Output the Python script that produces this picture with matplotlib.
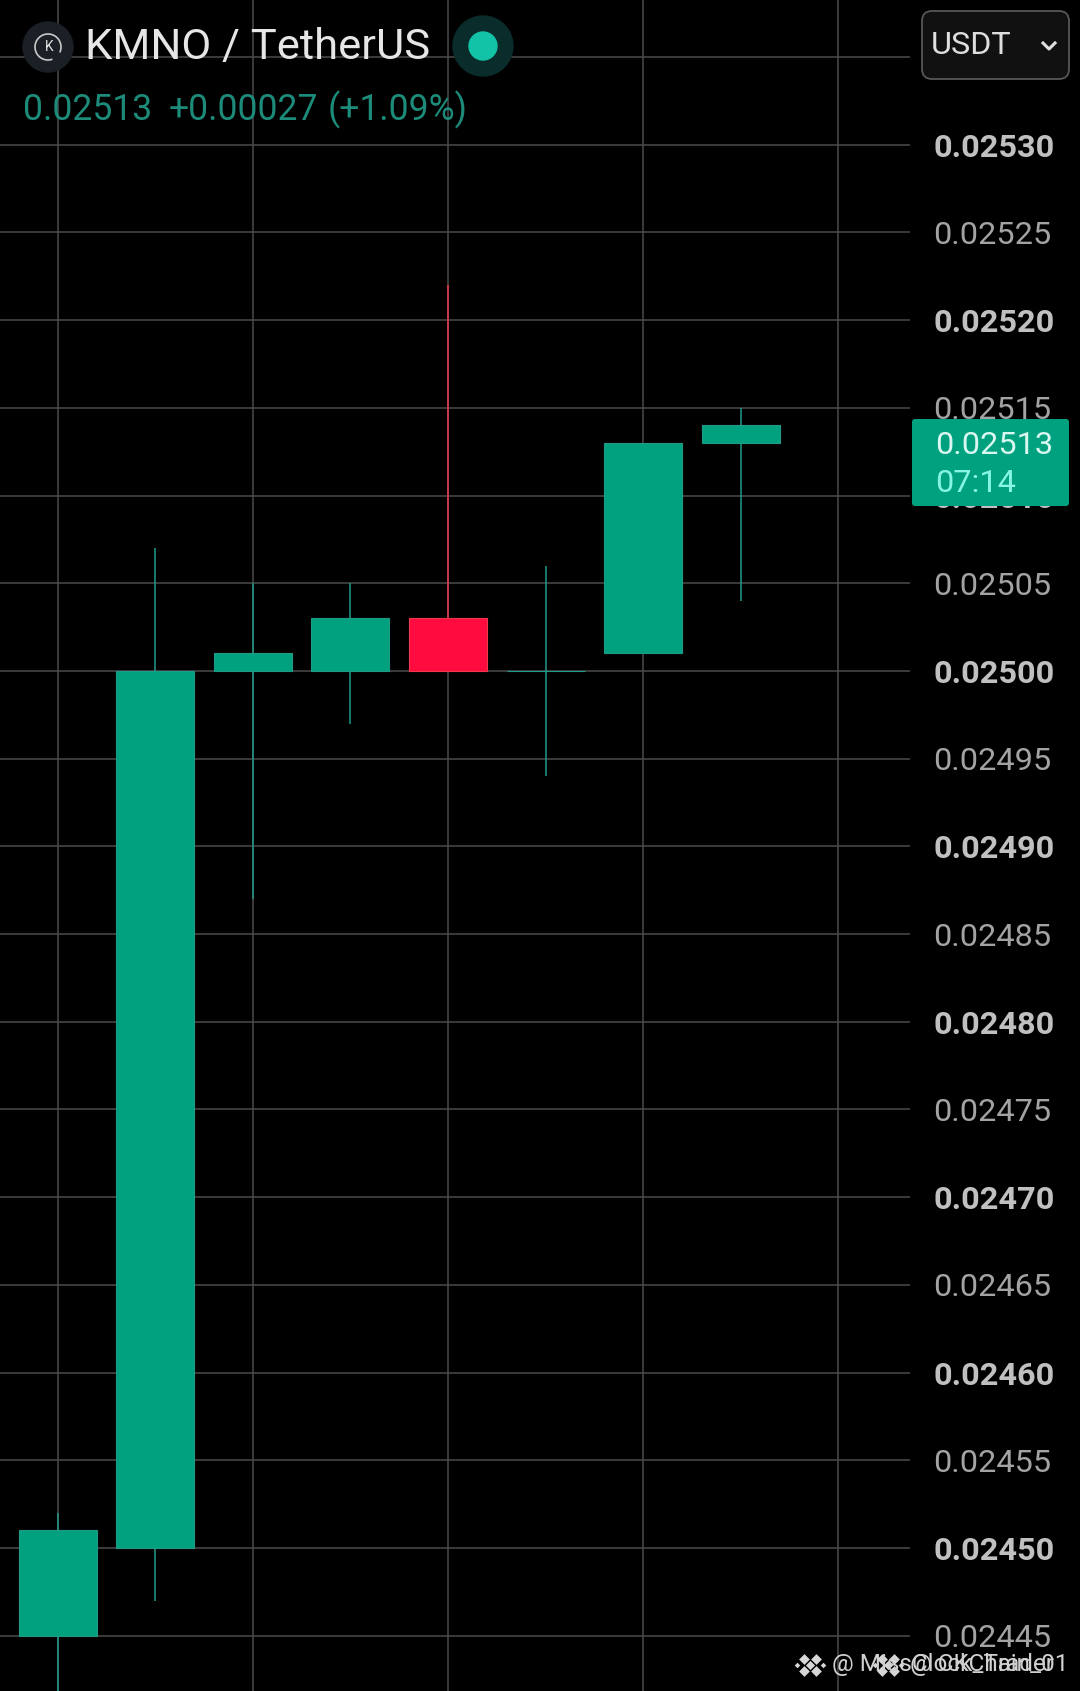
import matplotlib
matplotlib.use('Agg')
import matplotlib.pyplot as plt
from matplotlib.patches import Circle, Arc, FancyBboxPatch

plt.rcParams['font.family'] = ['Roboto', 'DejaVu Sans']

# candle values
opens = [0.02445, 0.02450, 0.02500, 0.02500, 0.02503, 0.02500, 0.02501, 0.02513]
closes = [0.02451, 0.02500, 0.02501, 0.02503, 0.02500, 0.02500, 0.02513, 0.02514]
highs = [0.02452, 0.02507, 0.02505, 0.02505, 0.02522, 0.02506, 0.02513, 0.02515]
lows = [0.02440, 0.02447, 0.02487, 0.02497, 0.02500, 0.02494, 0.02501, 0.02504]

price_ticks = [0.02445, 0.02450, 0.02455, 0.02460, 0.02465, 0.02470, 0.02475, 0.02480,
               0.02485, 0.02490, 0.02495, 0.02500, 0.02505, 0.02510, 0.02515, 0.02520,
               0.02525, 0.02530, 0.02535]
time_ticks = [0, 2, 4, 6, 8]

W, H = 1080, 1691
GREEN = '#00a17f'
RED = '#ff0b3f'

fig = plt.figure(figsize=(W / 100, H / 100), dpi=100, facecolor='black')

# main chart, pixel width up to where the grid stops
ax = fig.add_axes([0, 0, 910 / W, 1], facecolor='black')
px_per_bar = 97.6
px_per_unit = 87.7 / 0.00005
ax.set_xlim(-57.6 / px_per_bar, (910 - 57.6) / px_per_bar)
ax.set_ylim(0.02535 - (H - 57) / px_per_unit, 0.02535 + 57 / px_per_unit)

ax.set_axisbelow(True)
ax.grid(True, color='#4b4b4b', linewidth=1.1)
ax.set_xticks(time_ticks)
ax.set_xticklabels([])
ax.tick_params(axis='x', length=0)
ax.yaxis.tick_right()
ax.set_yticks(price_ticks)
ax.set_yticklabels(['%.5f' % p if p < 0.0253 + 0.00001 else '' for p in price_ticks])
ax.tick_params(axis='y', length=0, pad=17, labelsize=23.4)
for p, lab in zip(price_ticks, ax.get_yticklabels()):
    # every 0.0001 is shown bold
    if round(p * 100000) % 10 == 0:
        lab.set_fontweight('bold')
        lab.set_color('#c0c0c0')
    else:
        lab.set_color('#a3a3a3')
for s in ax.spines.values():
    s.set_visible(False)

for i in range(len(opens)):
    up = closes[i] >= opens[i]
    ax.vlines(i, lows[i], highs[i], color='#1f9a88' if up else '#f0384f', linewidth=1.1, zorder=3)
    ax.bar(i, abs(closes[i] - opens[i]), bottom=min(opens[i], closes[i]), width=0.8,
           color=GREEN if up else RED, edgecolor='#1f9a88' if up else '#f0384f',
           linewidth=0.8, zorder=4)

# overlay in pixel coordinates for the app's header and labels
ov = fig.add_axes([0, 0, 1, 1], facecolor='none')
ov.set_xlim(0, W)
ov.set_ylim(H, 0)
ov.axis('off')

# coin logo
ov.add_patch(Circle((48, 47), 25, color='#1b2026'))
ov.add_patch(Arc((48, 47), 26, 26, theta1=70, theta2=385, color='#c9c9c9', linewidth=1.2))
ov.text(49, 47, 'K', color='#e4e4e4', fontsize=10, ha='center', va='center')

ov.text(85, 47, 'KMNO / TetherUS', color='#e6e6e6', fontsize=31.3, va='center')

# status dot
ov.add_patch(Circle((483, 46), 30, color='#0a2c2b'))
ov.add_patch(Circle((483, 46), 14, color='#13c3a7'))

ov.text(23, 110, '0.02513', color='#1d8b79', fontsize=25.6, va='center')
ov.text(169, 110, '+0.00027', color='#1d8b79', fontsize=25.6, va='center')
ov.text(328, 110, '(+1.09%)', color='#1d8b79', fontsize=25.6, va='center')

# currency button
ov.add_patch(FancyBboxPatch((928, 17), 135, 56, boxstyle='round,pad=6,rounding_size=10',
                            facecolor='#111111', edgecolor='#575757', linewidth=1.3))
ov.text(931, 46, 'USDT', color='#dedede', fontsize=23.3, va='center')
ov.plot([1043, 1049, 1055], [43, 49, 43], color='#e0e0e0', linewidth=2.2)

# last price label
ov.add_patch(FancyBboxPatch((914, 421), 153, 83, boxstyle='round,pad=2,rounding_size=3',
                            facecolor=GREEN, edgecolor='none'))
ov.text(935, 445, '0.02513', color='#d8f7f0', fontsize=23.4, va='center')
ov.text(935, 483, '07:14', color='#86f5e2', fontsize=23.4, va='center')


def binance_mark(x, y):
    # small diamonds arranged like the exchange logo
    for dx, dy, s in [(0, 0, 22), (-9, -9, 30), (9, -9, 30), (-9, 9, 30), (9, 9, 30), (-18, 0, 8), (18, 0, 8)]:
        ov.scatter(x + dx * 0.7, y + dy * 0.7, s=s, marker='D', color='#d6d6d6', linewidths=0)


binance_mark(810, 1665)
binance_mark(888, 1665)
ov.text(832, 1665, '@ MissClock_Trader', color='#d0d0d0', fontsize=17.5, va='center')
ov.text(910, 1665, '@ CKChain_01', color='#d0d0d0', fontsize=17.5, va='center')

fig.savefig('out.png', dpi=100, facecolor='black')
